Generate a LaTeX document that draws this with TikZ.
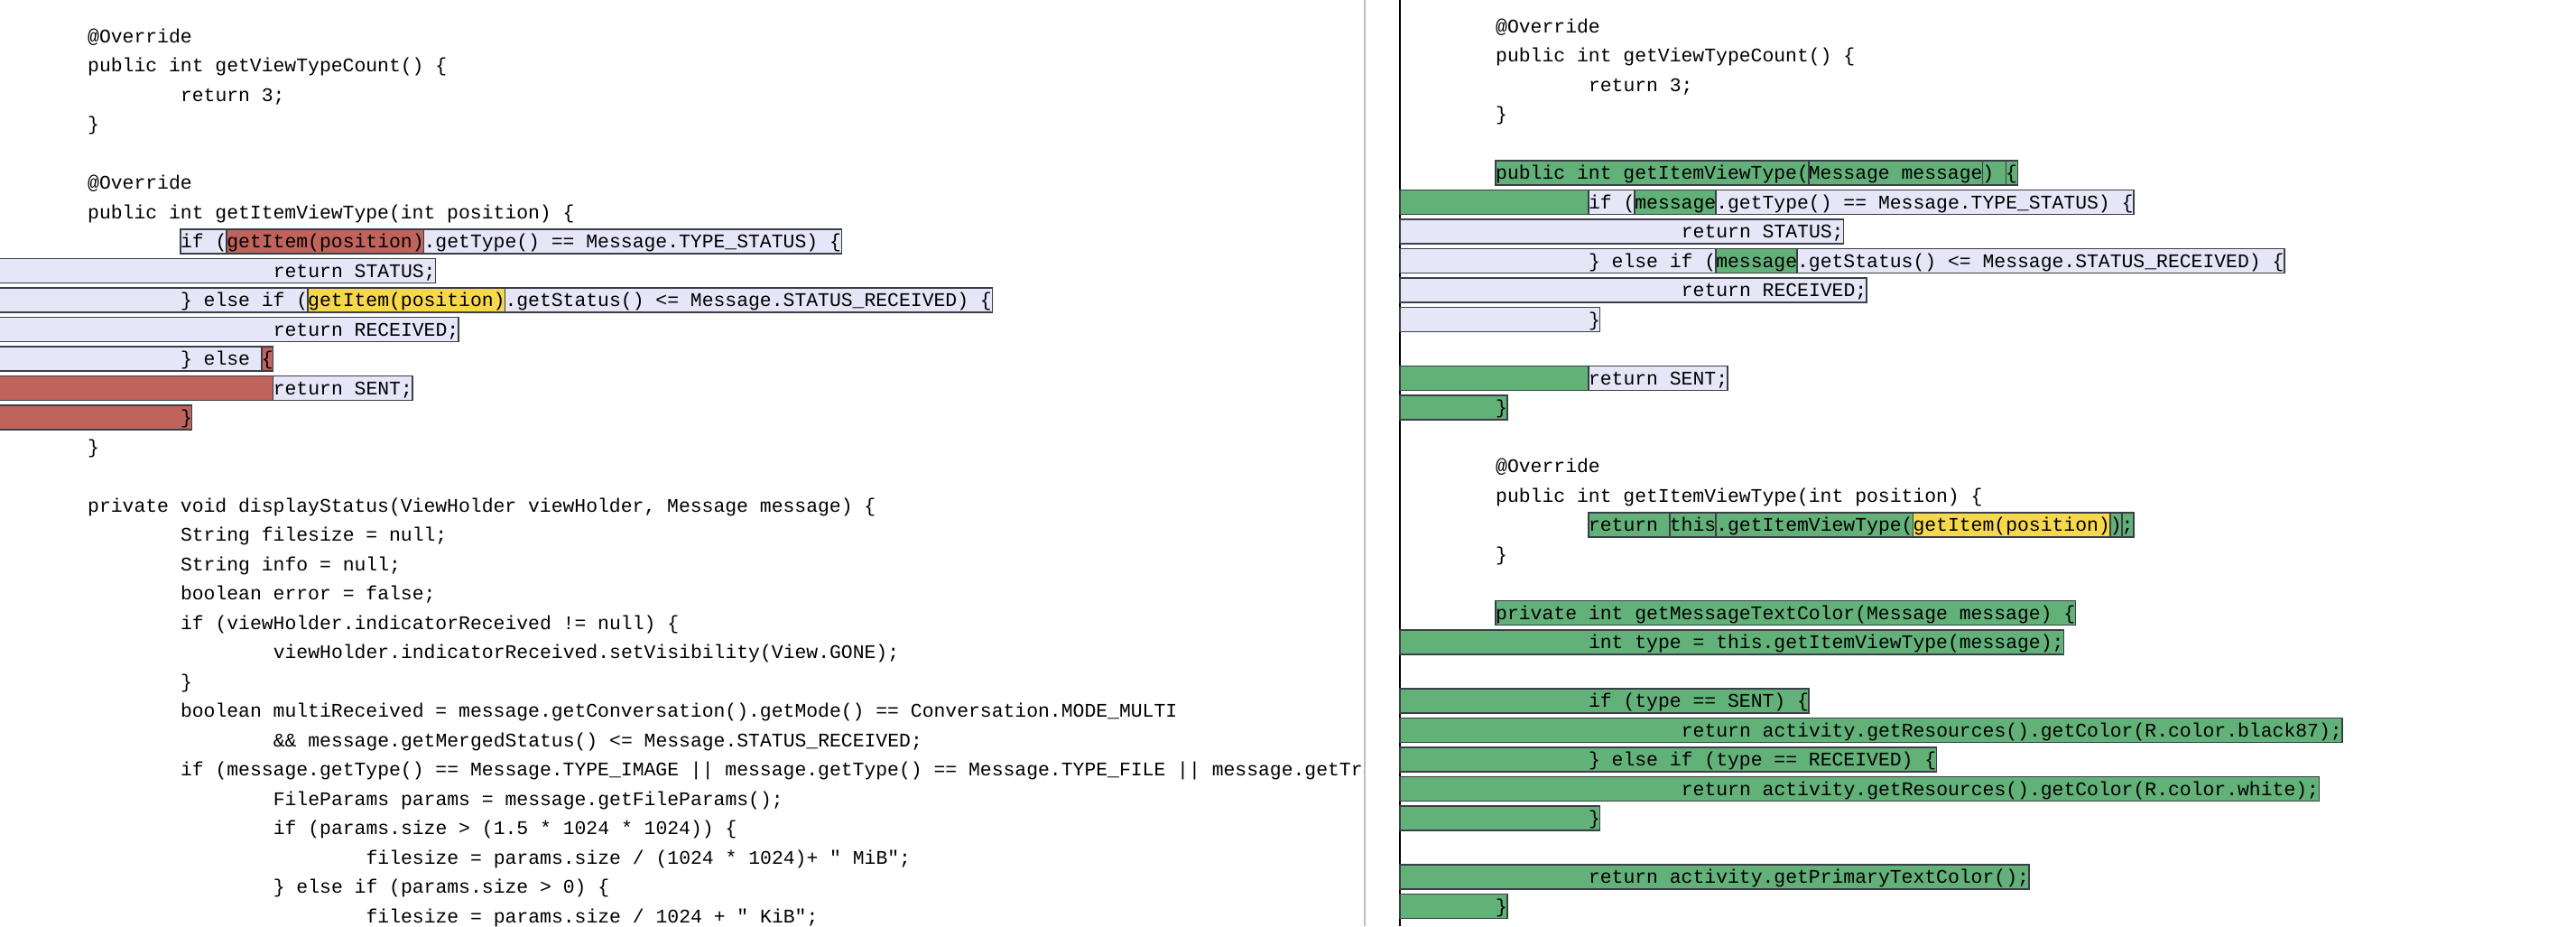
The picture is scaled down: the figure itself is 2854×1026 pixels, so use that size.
\documentclass[tikz,border=0pt]{standalone}
\usepackage{fontspec}
\setmonofont{Liberation Mono}
\definecolor{lav}{HTML}{E6E6F8}
\definecolor{delred}{HTML}{C0635C}
\definecolor{movyel}{HTML}{F7D84C}
\definecolor{addgrn}{HTML}{62B179}
\definecolor{boxline}{HTML}{3A3F45}

% left pane: column -> x, line -> y
\newcommand\hlL[4]{\draw[#1] ({97+12.85*(#2)},{40+32.5*(#4)-13.5}) rectangle ({97+12.85*(#3)},{40+32.5*(#4)+13.5});}
\newcommand\codeL[4]{\node[code] (#1) at ({97+12.85*(#2)},{40+32.5*(#3)+7}) {#4};}
% right pane
\newcommand\hlR[4]{\draw[#1] ({1657+12.85*(#2)},{29+32.5*(#4)-13.5}) rectangle ({1657+12.85*(#3)},{29+32.5*(#4)+13.5});}
\newcommand\codeR[4]{\node[code] (#1) at ({1657+12.85*(#2)},{29+32.5*(#3)+7}) {#4};}

\begin{document}
\begin{tikzpicture}[x=1pt, y=-1pt,
    code/.style={anchor=base west, inner sep=0, font=\ttfamily\fontsize{21.4}{25}\selectfont},
    same/.style={fill=lav, draw=boxline, line width=1.5pt},
    gone/.style={fill=delred, draw=boxline, line width=1.5pt},
    moved/.style={fill=movyel, draw=boxline, line width=1.5pt},
    added/.style={fill=addgrn, draw=boxline, line width=1.5pt}]
    \useasboundingbox (0,0) rectangle (2854,1026);

    % Left pane (old)
    \begin{scope}
        \clip (0,0) rectangle (1512,1026);
        \hlL{same}{8}{65}{7}
        \hlL{gone}{12}{29}{7}
        \hlL{same}{-7.6}{30}{8}
        \hlL{same}{-7.6}{78}{9}
        \hlL{moved}{19}{36}{9}
        \hlL{same}{-7.6}{32}{10}
        \hlL{same}{-7.6}{16}{11}
        \hlL{gone}{15}{16}{11}
        \hlL{gone}{-7.6}{16}{12}
        \hlL{same}{16}{28}{12}
        \hlL{gone}{-7.6}{9}{13}

        \codeL{l0}{0}{0}{@Override}
        \codeL{l1}{0}{1}{public int getViewTypeCount() \{}
        \codeL{l2}{8}{2}{return 3;}
        \codeL{l3}{0}{3}{\}}
        \codeL{l5}{0}{5}{@Override}
        \codeL{l6}{0}{6}{public int getItemViewType(int position) \{}
        \codeL{l7}{8}{7}{if (getItem(position).getType() == Message.TYPE\_STATUS) \{}
        \codeL{l8}{16}{8}{return STATUS;}
        \codeL{l9}{8}{9}{\} else if (getItem(position).getStatus() <= Message.STATUS\_RECEIVED) \{}
        \codeL{l10}{16}{10}{return RECEIVED;}
        \codeL{l11}{8}{11}{\} else \{}
        \codeL{l12}{16}{12}{return SENT;}
        \codeL{l13}{8}{13}{\}}
        \codeL{l14}{0}{14}{\}}
        \codeL{l16}{0}{16}{private void displayStatus(ViewHolder viewHolder, Message message) \{}
        \codeL{l17}{8}{17}{String filesize = null;}
        \codeL{l18}{8}{18}{String info = null;}
        \codeL{l19}{8}{19}{boolean error = false;}
        \codeL{l20}{8}{20}{if (viewHolder.indicatorReceived != null) \{}
        \codeL{l21}{16}{21}{viewHolder.indicatorReceived.setVisibility(View.GONE);}
        \codeL{l22}{8}{22}{\}}
        \codeL{l23}{8}{23}{boolean multiReceived = message.getConversation().getMode() == Conversation.MODE\_MULTI}
        \codeL{l24}{16}{24}{\&\& message.getMergedStatus() <= Message.STATUS\_RECEIVED;}
        \codeL{l25}{8}{25}{if (message.getType() == Message.TYPE\_IMAGE || message.getType() == Message.TYPE\_FILE || message.getTransferable() != null) \{}
        \codeL{l26}{16}{26}{FileParams params = message.getFileParams();}
        \codeL{l27}{16}{27}{if (params.size > (1.5 * 1024 * 1024)) \{}
        \codeL{l28}{24}{28}{filesize = params.size / (1024 * 1024)+ " MiB";}
        \codeL{l29}{16}{29}{\} else if (params.size > 0) \{}
        \codeL{l30}{24}{30}{filesize = params.size / 1024 + " KiB";}
    \end{scope}

    % Divider
    \draw[black!25, line width=1.5pt] (1512,0) -- (1512,1026);
    \draw[black, line width=2pt] (1551,0) -- (1551,1026);

    % Right pane (new)
    \hlR{added}{0}{45}{5}
    \hlR{added}{27}{42}{5}
    \hlR{added}{44}{45}{5}
    \hlR{added}{-8.25}{8}{6}
    \hlR{same}{8}{55}{6}
    \hlR{added}{12}{19}{6}
    \hlR{same}{-8.25}{30}{7}
    \hlR{same}{-8.25}{68}{8}
    \hlR{added}{19}{26}{8}
    \hlR{same}{-8.25}{32}{9}
    \hlR{same}{-8.25}{9}{10}
    \hlR{added}{-8.25}{8}{12}
    \hlR{same}{8}{20}{12}
    \hlR{added}{-8.25}{1}{13}
    \hlR{added}{8}{15}{17}
    \hlR{added}{15}{19}{17}
    \hlR{added}{19}{36}{17}
    \hlR{moved}{36}{53}{17}
    \hlR{added}{53}{54}{17}
    \hlR{added}{54}{55}{17}
    \hlR{added}{0}{50}{20}
    \hlR{added}{-8.25}{49}{21}
    \hlR{added}{-8.25}{27}{23}
    \hlR{added}{-8.25}{73}{24}
    \hlR{added}{-8.25}{38}{25}
    \hlR{added}{-8.25}{71}{26}
    \hlR{added}{-8.25}{9}{27}
    \hlR{added}{-8.25}{46}{29}
    \hlR{added}{-8.25}{1}{30}

    \codeR{r0}{0}{0}{@Override}
    \codeR{r1}{0}{1}{public int getViewTypeCount() \{}
    \codeR{r2}{8}{2}{return 3;}
    \codeR{r3}{0}{3}{\}}
    \codeR{r5}{0}{5}{public int getItemViewType(Message message) \{}
    \codeR{r6}{8}{6}{if (message.getType() == Message.TYPE\_STATUS) \{}
    \codeR{r7}{16}{7}{return STATUS;}
    \codeR{r8}{8}{8}{\} else if (message.getStatus() <= Message.STATUS\_RECEIVED) \{}
    \codeR{r9}{16}{9}{return RECEIVED;}
    \codeR{r10}{8}{10}{\}}
    \codeR{r12}{8}{12}{return SENT;}
    \codeR{r13}{0}{13}{\}}
    \codeR{r15}{0}{15}{@Override}
    \codeR{r16}{0}{16}{public int getItemViewType(int position) \{}
    \codeR{r17}{8}{17}{return this.getItemViewType(getItem(position));}
    \codeR{r18}{0}{18}{\}}
    \codeR{r20}{0}{20}{private int getMessageTextColor(Message message) \{}
    \codeR{r21}{8}{21}{int type = this.getItemViewType(message);}
    \codeR{r23}{8}{23}{if (type == SENT) \{}
    \codeR{r24}{16}{24}{return activity.getResources().getColor(R.color.black87);}
    \codeR{r25}{8}{25}{\} else if (type == RECEIVED) \{}
    \codeR{r26}{16}{26}{return activity.getResources().getColor(R.color.white);}
    \codeR{r27}{8}{27}{\}}
    \codeR{r29}{8}{29}{return activity.getPrimaryTextColor();}
    \codeR{r30}{0}{30}{\}}
\end{tikzpicture}
\end{document}
